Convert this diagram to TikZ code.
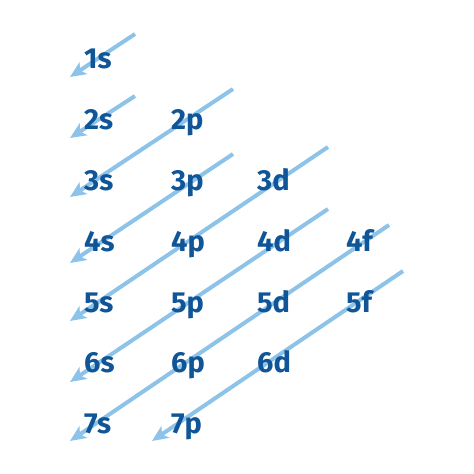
\documentclass[tikz,border=0pt]{standalone}
\usepackage{fontspec}
\setmainfont{Fira Sans}
\usetikzlibrary{arrows.meta}
\definecolor{lbl}{HTML}{0F5597}
\definecolor{arr}{HTML}{8DC3E9}
\begin{document}
\begin{tikzpicture}[x=1pt,y=-1pt,
  orb/.style={anchor=base west,inner sep=0pt,text=lbl,font=\fontsize{29}{29}\selectfont\bfseries},
  diag/.style={draw=arr,line width=4pt,-{Stealth[length=16pt,width=14pt,inset=4pt]}}]
\useasboundingbox (0,0) rectangle (474,474);
% arrow coordinates
\coordinate (s1) at (135,34);  \coordinate (t1) at (70,77);
\coordinate (s2) at (135,96);  \coordinate (t2) at (70,138);
\coordinate (s3) at (233,89);  \coordinate (t3) at (70,197);
\coordinate (s4) at (233,154); \coordinate (t4) at (70,263);
\coordinate (s5) at (328,147); \coordinate (t5) at (70,321);
\coordinate (s6) at (328,209); \coordinate (t6) at (70,382);
\coordinate (s7) at (389,225); \coordinate (t7) at (70,441);
\coordinate (s8) at (403,271); \coordinate (t8) at (152,441);
\foreach \i in {1,...,8} \draw[diag] (s\i) -- (t\i);
% labels
\node[orb] (n1s) at (84,68) {1s};
\node[orb] (n2s) at (84,129) {2s};
\node[orb] (n2p) at (171,129) {2p};
\node[orb] (n3s) at (84,190) {3s};
\node[orb] (n3p) at (171,190) {3p};
\node[orb] (n3d) at (257,190) {3d};
\node[orb] (n4s) at (84,251) {4s};
\node[orb] (n4p) at (171,251) {4p};
\node[orb] (n4d) at (257,251) {4d};
\node[orb] (n4f) at (346,251) {4f};
\node[orb] (n5s) at (84,312) {5s};
\node[orb] (n5p) at (171,312) {5p};
\node[orb] (n5d) at (257,312) {5d};
\node[orb] (n5f) at (346,312) {5f};
\node[orb] (n6s) at (84,372) {6s};
\node[orb] (n6p) at (171,372) {6p};
\node[orb] (n6d) at (257,372) {6d};
\node[orb] (n7s) at (84,433) {7s};
\node[orb] (n7p) at (171,433) {7p};
\end{tikzpicture}
\end{document}
